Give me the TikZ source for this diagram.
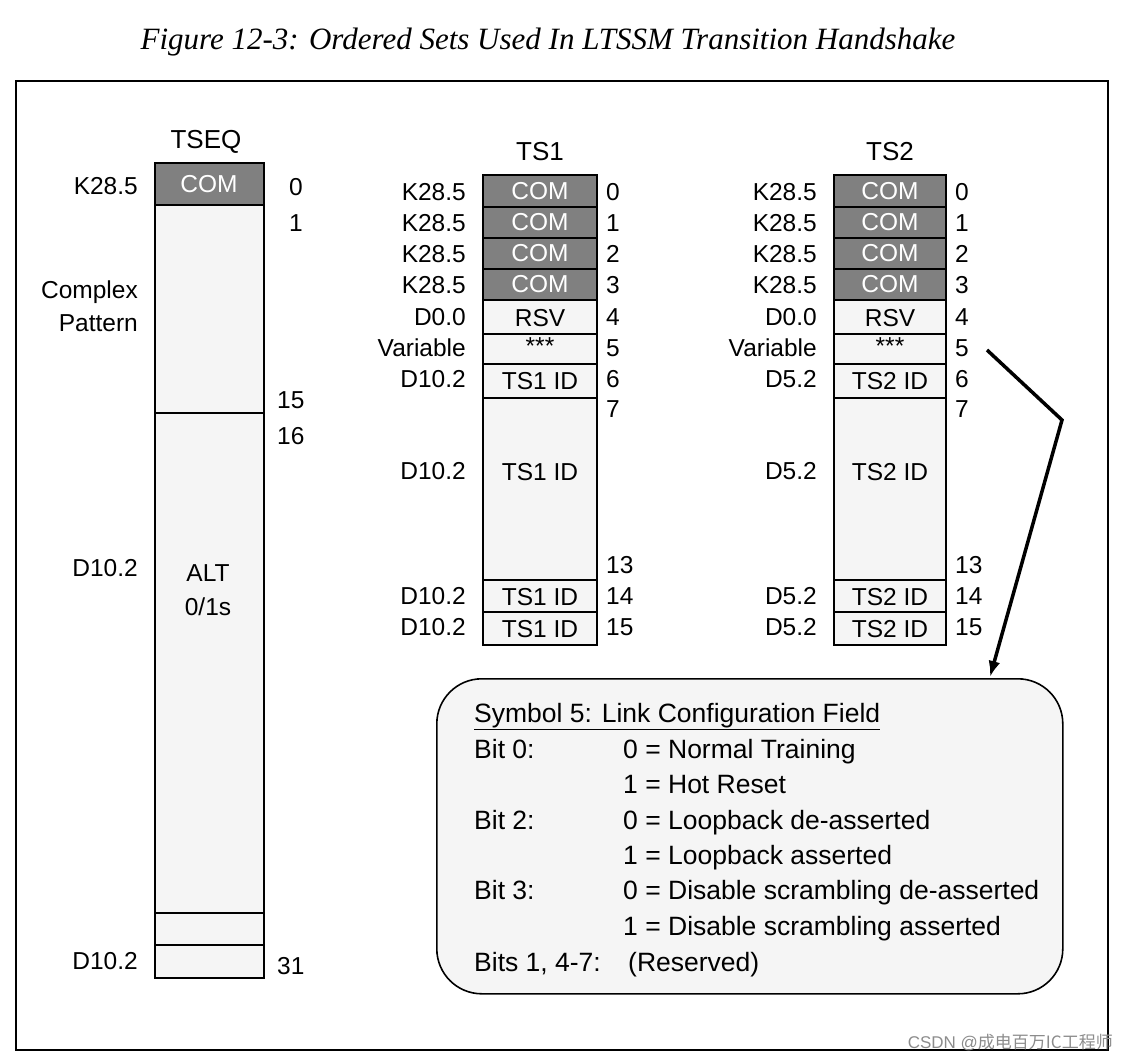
\documentclass[tikz,border=0pt]{standalone}
\usepackage{fontspec}
\setmainfont{Liberation Sans}
\newfontfamily\titlefont{Liberation Serif}
\newfontfamily\cjk{Noto Sans CJK SC}
\usetikzlibrary{arrows.meta}
\begin{document}
\begin{tikzpicture}[x=1pt,y=-1pt,
  col/.style={draw,line width=2.5pt,fill=black!4},
  com/.style={draw,line width=2.5pt,fill=black!50},
  lab/.style={font=\fontsize{24.5}{27}\selectfont,inner sep=0pt},
  comt/.style={lab,text=white},
  rl/.style={lab,anchor=east},
  nl/.style={lab,anchor=west},
  bt/.style={font=\fontsize{26.5}{29}\selectfont,inner sep=0pt,anchor=base west}]
\useasboundingbox (0,0) rectangle (1128,1062);
\node[inner sep=0pt] (title) at (548,42) {\fontsize{31}{33}\selectfont\titlefont\itshape Figure 12-3: Ordered Sets Used In LTSSM Transition Handshake};
\draw[line width=1.4pt] (16,81) rectangle (1108,1050);
% TSEQ
\node[lab,font=\fontsize{26}{28}\selectfont] (tseqt) at (206,142) {TSEQ};
\draw[col] (155,163) rectangle (264,978);
\draw[com] (155,163) rectangle (264,205);
\node[comt] (tc) at (209,184) {COM};
\draw[line width=1.4pt] (155,413) -- (264,413);
\draw[line width=1.4pt] (155,913) -- (264,913);
\draw[line width=1.4pt] (155,945) -- (264,945);
\node[rl] (q1) at (138,186) {K28.5};
\node[rl] (q2) at (138,292) {Complex};
\node[rl] (q3) at (138,323) {Pattern};
\node[rl] (q4) at (138,568) {D10.2};
\node[rl] (q5) at (138,961) {D10.2};
\node[lab] (alt1) at (208,573) {ALT};
\node[lab] (alt2) at (208,607) {0/1s};
\node[nl] (n0) at (289,187) {0};
\node[nl] (n1) at (289,223) {1};
\node[nl] (n15) at (277,400) {15};
\node[nl] (n16) at (277,436) {16};
\node[nl] (n31) at (277,966) {31};
% TS columns
\foreach \xl/\xr/\nm/\id/\dd in {483/597/TS1/TS1 ID/D10.2, 834/946/TS2/TS2 ID/D5.2}{
  \node[lab,font=\fontsize{26}{28}\selectfont] at ({(\xl+\xr)/2},152) {\nm};
  \draw[col] (\xl,175) rectangle (\xr,645);
  \foreach \a/\b in {175/207,207/238,238/269,269/300}{
    \draw[com] (\xl,\a) rectangle (\xr,\b);
    \node[comt] at ({(\xl+\xr)/2},{(\a+\b)/2}) {COM};
  }
  \foreach \yy in {334,364,398,580,612}{\draw[line width=2.5pt] (\xl,\yy) -- (\xr,\yy);}
  \node[lab] at ({(\xl+\xr)/2},318) {RSV};
  \node[lab] at ({(\xl+\xr)/2},346) {***};
  \node[lab] at ({(\xl+\xr)/2},381) {\id};
  \node[lab] at ({(\xl+\xr)/2},472) {\id};
  \node[lab] at ({(\xl+\xr)/2},597) {\id};
  \node[lab] at ({(\xl+\xr)/2},629) {\id};
  \foreach \t/\yy in {K28.5/192,K28.5/223,K28.5/254,K28.5/285,D0.0/317,Variable/348,\dd/379,\dd/471,\dd/596,\dd/627}{
    \node[rl] at (\xl-17,\yy) {\t};}
  \foreach \t/\yy in {0/192,1/223,2/254,3/285,4/317,5/348,6/379,7/409,13/565,14/596,15/627}{
    \node[nl] at (\xr+9,\yy) {\t};}
}
% callout box
\node[draw,line width=1.6pt,fill=black!4,rounded corners=45pt,minimum width=626pt,minimum height=315pt,anchor=north west] (box) at (436,678) {};
\coordinate (s5) at (987,350);
\coordinate (bend) at (1062,420);
\draw[line width=3.5pt,-{Latex[length=16pt,width=12pt]}] (s5) -- (bend) -- (990,677);
\node[bt] (h) at (474,722) {\underline{Symbol 5: Link Configuration Field}};
\foreach \l/\r/\yy in {Bit 0:/0 = Normal Training/758, /1 = Hot Reset/793, Bit 2:/0 = Loopback de-asserted/829, /1 = Loopback asserted/864, Bit 3:/0 = Disable scrambling de-asserted/899, /1 = Disable scrambling asserted/935}{
  \node[bt] at (474,\yy) {\l};
  \node[bt] at (623,\yy) {\r};
}
\node[bt] (rb) at (474,971) {Bits 1, 4-7:};
\node[bt] (rr) at (628,971) {(Reserved)};
\node[anchor=east,inner sep=0pt,text=black!45,font=\fontsize{17}{19}\selectfont] (wm) at (1113,1043) {CSDN @{\cjk 成电百万IC工程师}};
\end{tikzpicture}
\end{document}
